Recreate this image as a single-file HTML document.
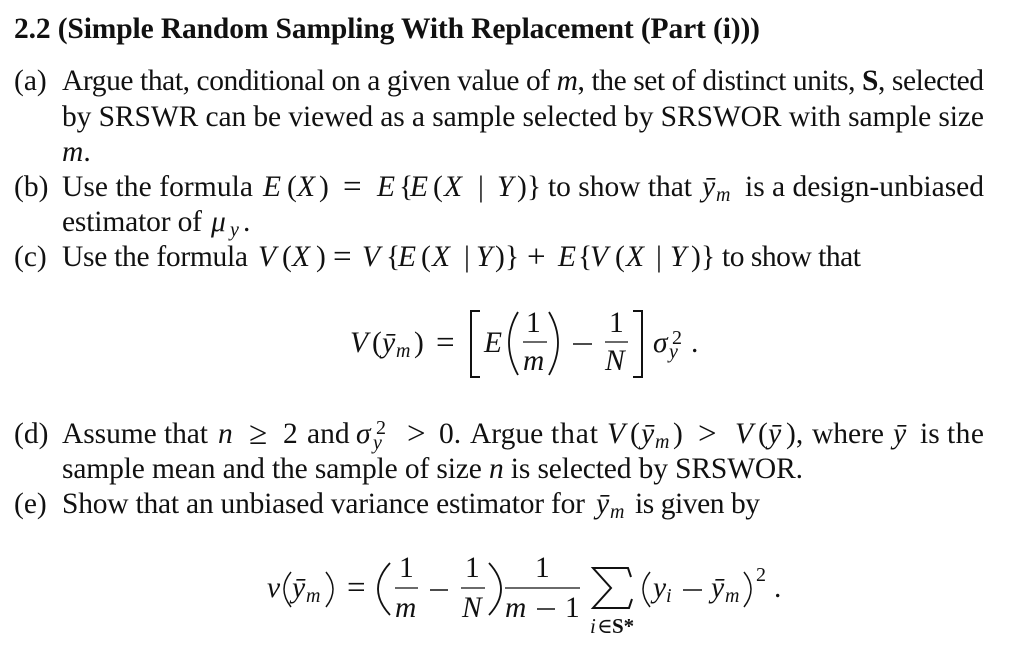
<!DOCTYPE html>
<html><head><meta charset="utf-8"><style>
html,body{margin:0;padding:0;background:#fff}
svg{display:block}
text{font-family:"Liberation Serif","DejaVu Serif",serif;font-size:29.5px;fill:#111;white-space:pre}
.i{font-style:italic}
.b{font-weight:bold}
.s{font-size:20px}
.o{font-size:33px}
</style></head><body>
<svg width="1024" height="646" viewBox="0 0 1024 646" xmlns="http://www.w3.org/2000/svg" style="filter:blur(.3px)">
<text x="14" y="38" class="b" textLength="746">2.2 (Simple Random Sampling With Replacement (Part (i)))</text>

<text x="14" y="90">(a)</text>
<text x="62" y="90" textLength="922">Argue that, conditional on a given value of <tspan class="i">m</tspan>, the set of distinct units, <tspan class="b">S</tspan>, selected</text>
<text x="62" y="126" textLength="922">by SRSWR can be viewed as a sample selected by SRSWOR with sample size</text>
<text x="62" y="161"><tspan class="i">m</tspan>.</text>

<text x="14" y="196">(b)</text>
<text x="62" y="196" textLength="191">Use the formula</text>
<text x="263" y="196" class="i">E</text><text x="287" y="196">(</text><text x="297" y="196" class="i">X</text><text x="319" y="196">)</text>
<text x="343" y="197" class="o">=</text>
<text x="377" y="196" class="i">E</text><text x="399" y="196">{</text><text x="410" y="196" class="i">E</text><text x="433" y="196">(</text><text x="444" y="196" class="i">X</text><text x="478" y="196">|</text><text x="497" y="196" class="i">Y</text><text x="517" y="196">)</text><text x="527" y="196">}</text>
<text x="548" y="196" textLength="144">to show that</text>
<text x="702" y="196" class="i">ȳ</text><text x="716" y="201" class="i s">m</text>
<text x="745" y="196" textLength="239">is a design-unbiased</text>
<text x="62" y="231" textLength="140">estimator of</text>
<text x="211" y="231" class="i">μ</text><text x="230" y="236" class="i s">y</text><text x="243" y="231">.</text>

<text x="14" y="266">(c)</text>
<text x="62" y="266" textLength="186">Use the formula</text>
<text x="258" y="266" class="i">V</text><text x="282" y="266">(</text><text x="292" y="266" class="i">X</text><text x="316" y="266">)</text>
<text x="333" y="267" class="o">=</text>
<text x="362" y="266" class="i">V</text><text x="386" y="266">{</text><text x="398" y="266" class="i">E</text><text x="421" y="266">(</text><text x="432" y="266" class="i">X</text><text x="464" y="266">|</text><text x="476" y="266" class="i">Y</text><text x="495" y="266">)</text><text x="505" y="266">}</text>
<text x="527" y="267" class="o">+</text>
<text x="558" y="266" class="i">E</text><text x="578" y="266">{</text><text x="590" y="266" class="i">V</text><text x="615" y="266">(</text><text x="626" y="266" class="i">X</text><text x="656" y="266">|</text><text x="670" y="266" class="i">Y</text><text x="691" y="266">)</text><text x="701" y="266">}</text>
<text x="722" y="266" textLength="139">to show that</text>

<!-- formula c -->
<text x="350" y="352" class="i">V</text><text x="372" y="352">(</text><text x="382" y="352" class="i">ȳ</text><text x="396" y="357" class="i s">m</text><text x="414" y="352">)</text>
<text x="436" y="353" class="o">=</text>
<path d="M480 311h-9v66h9M633 311h9v66h-9" fill="none" stroke="#111" stroke-width="2"/>
<text x="484" y="352" class="i">E</text>
<path d="M518 312q-18 30 0 63M549 312q18 30 0 63" fill="none" stroke="#111" stroke-width="1.8"/>
<text x="526" y="332">1</text>
<line x1="523" x2="547" y1="342" y2="342" stroke="#111" stroke-width="1.3"/>
<text x="523" y="370" class="i">m</text>
<line x1="573" x2="592" y1="344" y2="344" stroke="#111" stroke-width="1.5"/>
<text x="609" y="332">1</text>
<line x1="605" x2="628" y1="342" y2="342" stroke="#111" stroke-width="1.3"/>
<text x="605" y="370" class="i">N</text>
<text x="653" y="352" class="i">σ</text><text x="672" y="344" class="s">2</text><text x="669" y="358" class="i s">y</text><text x="691" y="352">.</text>

<text x="14" y="443">(d)</text>
<text x="62" y="443" textLength="146">Assume that</text>
<text x="218" y="443" class="i">n</text>
<text x="249" y="444" class="o">≥</text>
<text x="283" y="443">2</text>
<text x="307" y="443">and</text>
<text x="356" y="443" class="i">σ</text><text x="376" y="434" class="s">2</text><text x="373" y="449" class="i s">y</text>
<text x="407" y="444" class="o">&gt;</text>
<text x="439" y="443">0.</text>
<text x="470" y="443">Argue</text>
<text x="551" y="443" textLength="47">that</text>
<text x="607" y="443" class="i">V</text><text x="630" y="443">(</text><text x="641" y="443" class="i">ȳ</text><text x="655" y="448" class="i s">m</text><text x="673" y="443">)</text>
<text x="698" y="444" class="o">&gt;</text>
<text x="735" y="443" class="i">V</text><text x="758" y="443">(</text><text x="768" y="443" class="i">ȳ</text><text x="786" y="443">),</text>
<text x="812" y="443" textLength="72">where</text>
<text x="893" y="443" class="i">ȳ</text>
<text x="920" y="443">is</text><text x="947" y="443" textLength="37">the</text>
<text x="62" y="478" textLength="741">sample mean and the sample of size <tspan class="i">n</tspan> is selected by SRSWOR.</text>

<text x="14" y="513">(e)</text>
<text x="62" y="513" textLength="523">Show that an unbiased variance estimator for</text>
<text x="596" y="513" class="i">ȳ</text><text x="610" y="518" class="i s">m</text>
<text x="635" y="513" textLength="125">is given by</text>

<!-- formula e -->
<text x="267" y="597" class="i">v</text>
<path d="M291 572q-14 17 0 35M326 572q14 17 0 35" fill="none" stroke="#111" stroke-width="1.5"/>
<text x="292" y="597" class="i">ȳ</text><text x="306" y="602" class="i s">m</text>
<text x="347" y="598" class="o">=</text>
<path d="M390 563q-24 26 0 52M489 563q24 26 0 52" fill="none" stroke="#111" stroke-width="1.8"/>
<text x="399" y="577">1</text>
<line x1="395" x2="418" y1="588" y2="588" stroke="#111" stroke-width="1.3"/>
<text x="395" y="617" class="i">m</text>
<line x1="430" x2="448" y1="590" y2="590" stroke="#111" stroke-width="1.5"/>
<text x="465" y="577">1</text>
<line x1="461" x2="485" y1="588" y2="588" stroke="#111" stroke-width="1.3"/>
<text x="462" y="617" class="i">N</text>
<text x="535" y="577">1</text>
<line x1="505" x2="580" y1="588" y2="588" stroke="#111" stroke-width="1.3"/>
<text x="505" y="617" class="i">m</text>
<line x1="537" x2="555" y1="609" y2="609" stroke="#111" stroke-width="1.5"/>
<text x="565" y="617">1</text>
<path d="M631 577l-3-9h-35l18 20-18 20h36l3-9" fill="none" stroke="#111" stroke-width="2"/>
<text x="590" y="633" class="i s" style="font-size:21px">i</text><text x="597" y="633" class="s" style="font-size:21px">∈</text><text x="612" y="633" class="b s" style="font-size:21px">S*</text>
<path d="M650 572q-14 17 0 35M744 572q14 17 0 35" fill="none" stroke="#111" stroke-width="1.5"/>
<text x="653" y="597" class="i">y</text><text x="666" y="602" class="i s">i</text>
<line x1="683" x2="702" y1="590" y2="590" stroke="#111" stroke-width="1.5"/>
<text x="711" y="597" class="i">ȳ</text><text x="725" y="602" class="i s">m</text>
<text x="756" y="581" class="s">2</text>
<text x="774" y="597">.</text>
</svg>
</body></html>
